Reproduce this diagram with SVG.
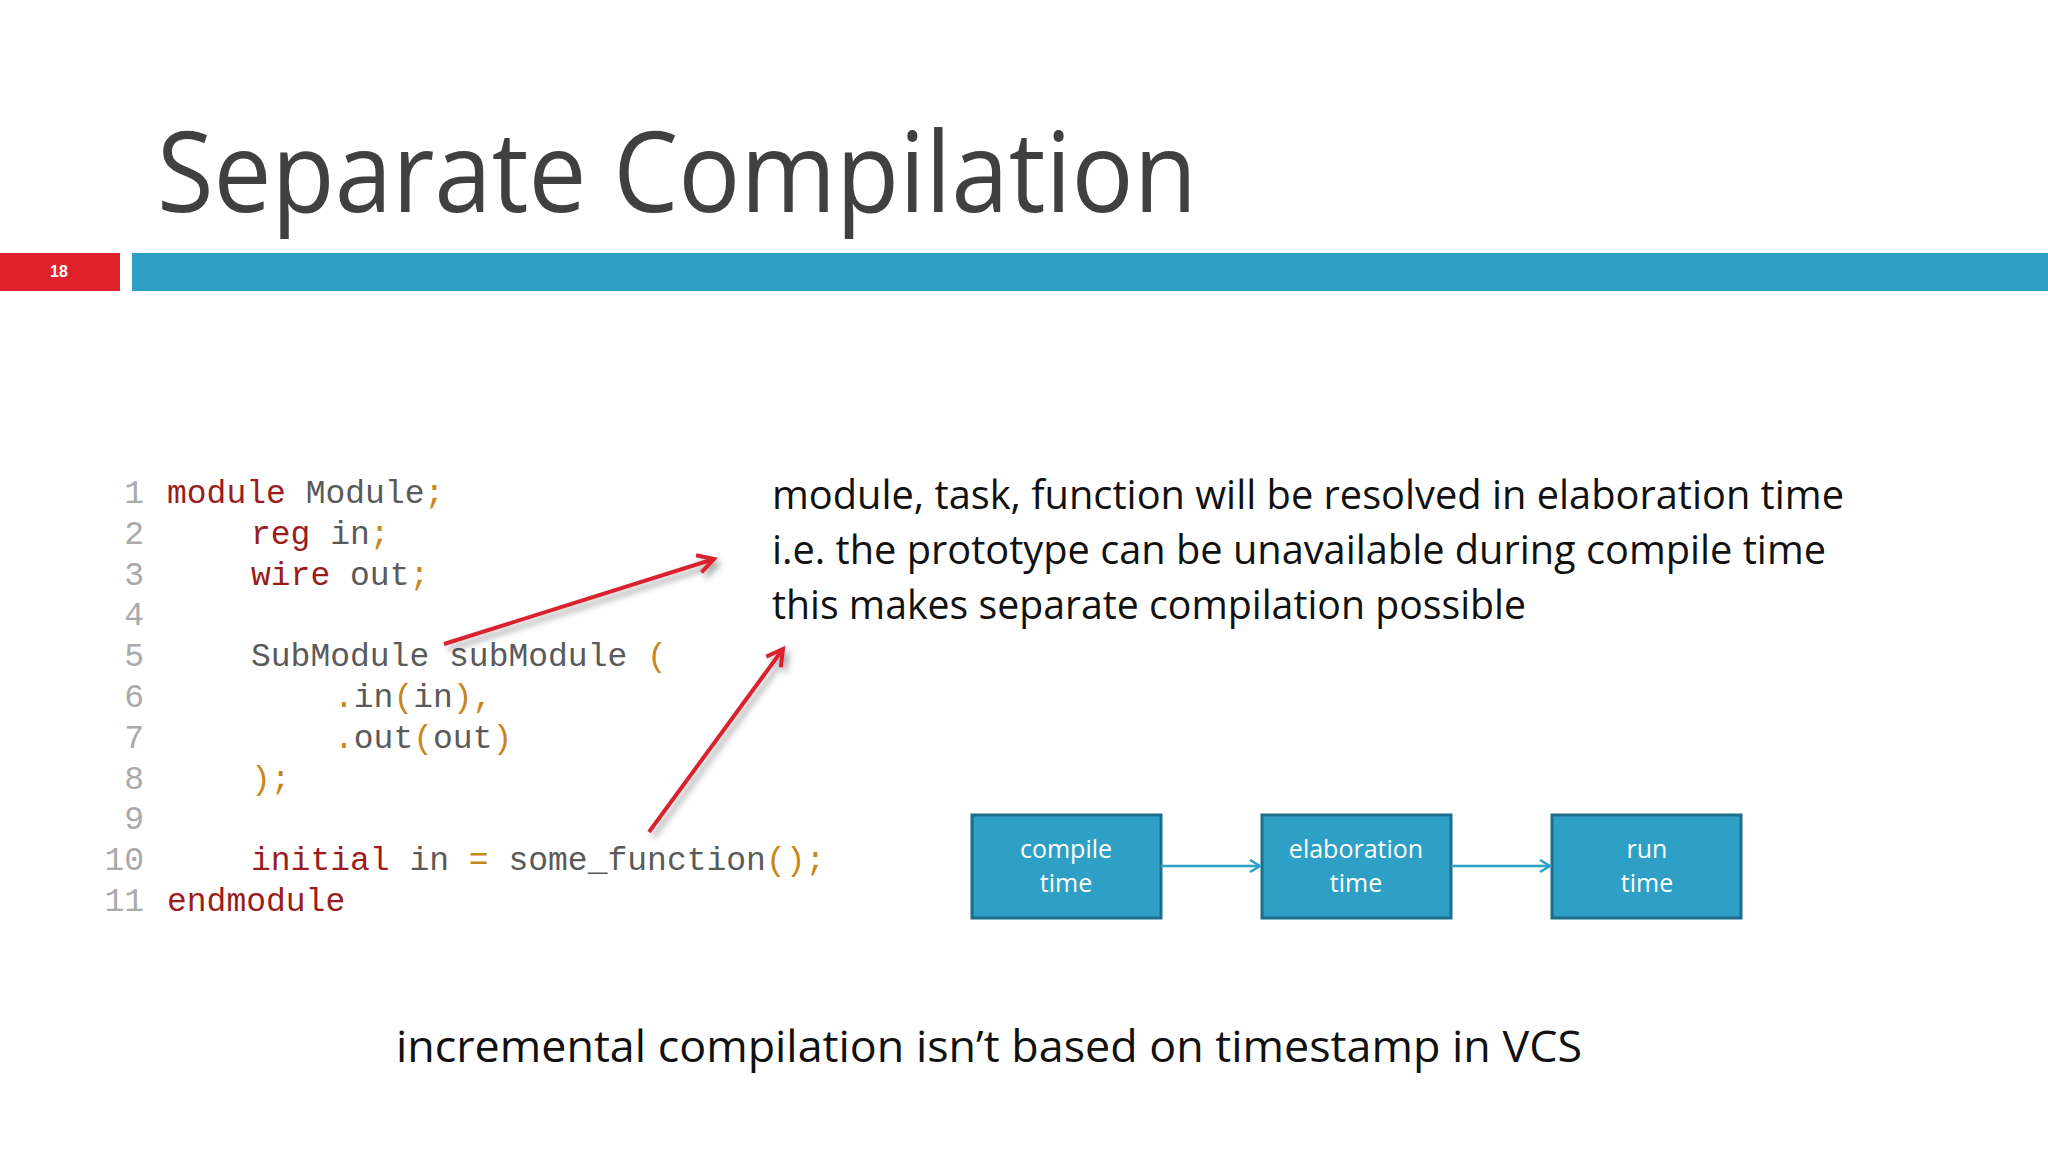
<svg xmlns="http://www.w3.org/2000/svg" width="2048" height="1152" viewBox="0 0 2048 1152">
<style>
.code{font-family:"Liberation Mono","DejaVu Sans Mono",monospace;font-size:33px;fill:#5a5a5a}
.ln{fill:#aaa;text-anchor:end}
.k{fill:#9b1c1c}
.p{fill:#c8861a}
.txt{font-family:"Open Sans","Liberation Sans",sans-serif;fill:#111}
.box{fill:#2E9FC5;stroke:#1D6E8A;stroke-width:3}
.bt{font-family:"Open Sans","Liberation Sans",sans-serif;font-size:25px;fill:#fff;text-anchor:middle}
.conn{stroke:#2E9FC5;stroke-width:2.5;fill:none}
.red{stroke:#D8232E;stroke-width:4;fill:none}
</style>
<defs>
<marker id="chev" markerWidth="14" markerHeight="14" refX="12" refY="7" orient="auto" markerUnits="userSpaceOnUse"><path d="M2,1 L12,7 L2,13" fill="none" stroke="#2E9FC5" stroke-width="2.5"/></marker>
<marker id="redh" markerWidth="24" markerHeight="24" refX="20" refY="12" orient="auto" markerUnits="userSpaceOnUse"><path d="M4,3 L20,12 L4,21" fill="none" stroke="#D8232E" stroke-width="4"/></marker>
<filter id="sh" x="-20%" y="-20%" width="140%" height="140%"><feDropShadow dx="4" dy="5" stdDeviation="3" flood-color="#000" flood-opacity="0.35"/></filter>
</defs>
<rect width="2048" height="1152" fill="#fff"/>
<text x="157" y="212" font-family="Open Sans, Liberation Sans, sans-serif" font-size="112" fill="#404040" textLength="1040" lengthAdjust="spacingAndGlyphs">Separate Compilation</text>
<rect x="0" y="253" width="120" height="38" fill="#E0202B"/>
<rect x="132" y="253" width="1916" height="38" fill="#2E9FC5"/>
<text x="59" y="277" font-family="Liberation Sans, sans-serif" font-size="16" font-weight="bold" fill="#fff" text-anchor="middle">18</text>
<g id="code" class="code" xml:space="preserve">
<text class="code ln" x="144" y="503">1</text>
<text class="code ln" x="144" y="544">2</text>
<text class="code ln" x="144" y="585">3</text>
<text class="code ln" x="144" y="625">4</text>
<text class="code ln" x="144" y="666">5</text>
<text class="code ln" x="144" y="707">6</text>
<text class="code ln" x="144" y="748">7</text>
<text class="code ln" x="144" y="789">8</text>
<text class="code ln" x="144" y="829">9</text>
<text class="code ln" x="144" y="870">10</text>
<text class="code ln" x="144" y="911">11</text>
<text class="code" x="167" y="503"><tspan class="k">module</tspan> Module<tspan class="p">;</tspan></text>
<text class="code" x="251" y="544"><tspan class="k">reg</tspan> in<tspan class="p">;</tspan></text>
<text class="code" x="251" y="585"><tspan class="k">wire</tspan> out<tspan class="p">;</tspan></text>
<text class="code" x="251" y="666">SubModule subModule <tspan class="p">(</tspan></text>
<text class="code" x="334" y="707"><tspan class="p">.</tspan>in<tspan class="p">(</tspan>in<tspan class="p">),</tspan></text>
<text class="code" x="334" y="748"><tspan class="p">.</tspan>out<tspan class="p">(</tspan>out<tspan class="p">)</tspan></text>
<text class="code p" x="251" y="789">);</text>
<text class="code" x="251" y="870"><tspan class="k">initial</tspan> in <tspan class="p">=</tspan> some_function<tspan class="p">();</tspan></text>
<text class="code k" x="167" y="911">endmodule</text>
</g>
<g id="desc" class="txt" font-size="40">
<text class="txt" x="772" y="509" font-size="40" textLength="1072" lengthAdjust="spacingAndGlyphs">module, task, function will be resolved in elaboration time</text>
<text class="txt" x="772" y="564" font-size="40" textLength="1054" lengthAdjust="spacingAndGlyphs">i.e. the prototype can be unavailable during compile time</text>
<text class="txt" x="772" y="619" font-size="40" textLength="754" lengthAdjust="spacingAndGlyphs">this makes separate compilation possible</text>
</g>
<g id="compile"><rect class="box" x="972" y="815" width="189" height="103"/><text class="bt" x="1066" y="858">compile</text><text class="bt" x="1066" y="892">time</text></g>
<g id="elaboration"><rect class="box" x="1262" y="815" width="189" height="103"/><text class="bt" x="1356" y="858">elaboration</text><text class="bt" x="1356" y="892">time</text></g>
<g id="run"><rect class="box" x="1552" y="815" width="189" height="103"/><text class="bt" x="1647" y="858">run</text><text class="bt" x="1647" y="892">time</text></g>
<g id="connectors">
<line class="conn" x1="1161" y1="866" x2="1260" y2="866" marker-end="url(#chev)"/>
<line class="conn" x1="1451" y1="866" x2="1550" y2="866" marker-end="url(#chev)"/>
<g filter="url(#sh)">
<line class="red" x1="444" y1="644" x2="714" y2="559" marker-end="url(#redh)"/>
<line class="red" x1="649" y1="832" x2="783" y2="649" marker-end="url(#redh)"/>
</g>
</g>
<text id="bottom" class="txt" x="396" y="1062" font-size="44" textLength="1186" lengthAdjust="spacingAndGlyphs">incremental compilation isn’t based on timestamp in VCS</text>
</svg>
